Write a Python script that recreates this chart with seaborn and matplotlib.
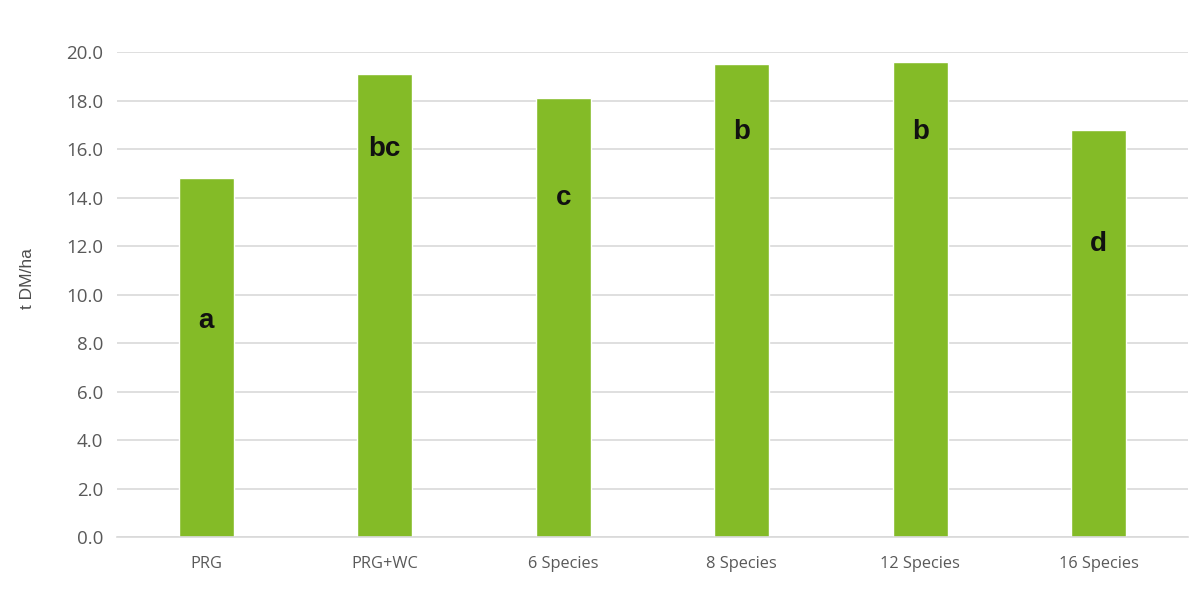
import matplotlib
matplotlib.use("Agg")
import matplotlib.pyplot as plt
import seaborn as sns
import pandas as pd

categories = ["PRG", "PRG+WC", "6 Species", "8 Species", "12 Species", "16 Species"]
values = [14.8, 19.1, 18.1, 19.5, 19.6, 16.8]
letters = ["a", "bc", "c", "b", "b", "d"]
letter_y = [8.9, 16.0, 14.0, 16.7, 16.7, 12.1]
yticks = [0, 2, 4, 6, 8, 10, 12, 14, 16, 18, 20]

sns.set_theme(style="white")
plt.rcParams['font.family'] = ['Open Sans', 'DejaVu Sans']

df = pd.DataFrame({"cat": categories, "val": values})

fig = plt.figure(figsize=(12, 6), dpi=100)
ax = fig.add_axes([0.0975, 0.105, 0.8925, 0.8083])
sns.barplot(data=df, x="cat", y="val", color="#84BB27", saturation=1, width=0.31, ax=ax)

ax.set_xlim(-0.5, 5.5)
ax.set_ylim(0, 20)
ax.set_yticks(yticks)
ax.set_yticklabels([f"{v:.1f}" for v in yticks])
ax.yaxis.grid(True, color="#D9D9D9", linewidth=1.2)
ax.set_axisbelow(True)
for s in ["top", "right", "left"]:
    ax.spines[s].set_visible(False)
ax.spines["bottom"].set_color("#D9D9D9")
ax.spines["bottom"].set_linewidth(1.2)
ax.tick_params(axis="y", length=0, pad=10, labelsize=13.5, labelcolor="#595959")
ax.tick_params(axis="x", length=0, pad=14, labelsize=11.8, labelcolor="#595959")
ax.set_xlabel("")
ax.set_ylabel("")
fig.text(27 / 1200, 1 - 279 / 600, "t DM/ha", rotation=90, ha="center", va="center",
         fontsize=12.5, color="#4D4D4D", family=["Liberation Sans", "DejaVu Sans"])

for i, (lt, ly) in enumerate(zip(letters, letter_y)):
    ax.text(i, ly, lt, ha="center", va="center", fontsize=20, fontweight="bold",
            family=["Liberation Sans", "DejaVu Sans"], color="#111111")

fig.savefig("out.png", dpi=100)
